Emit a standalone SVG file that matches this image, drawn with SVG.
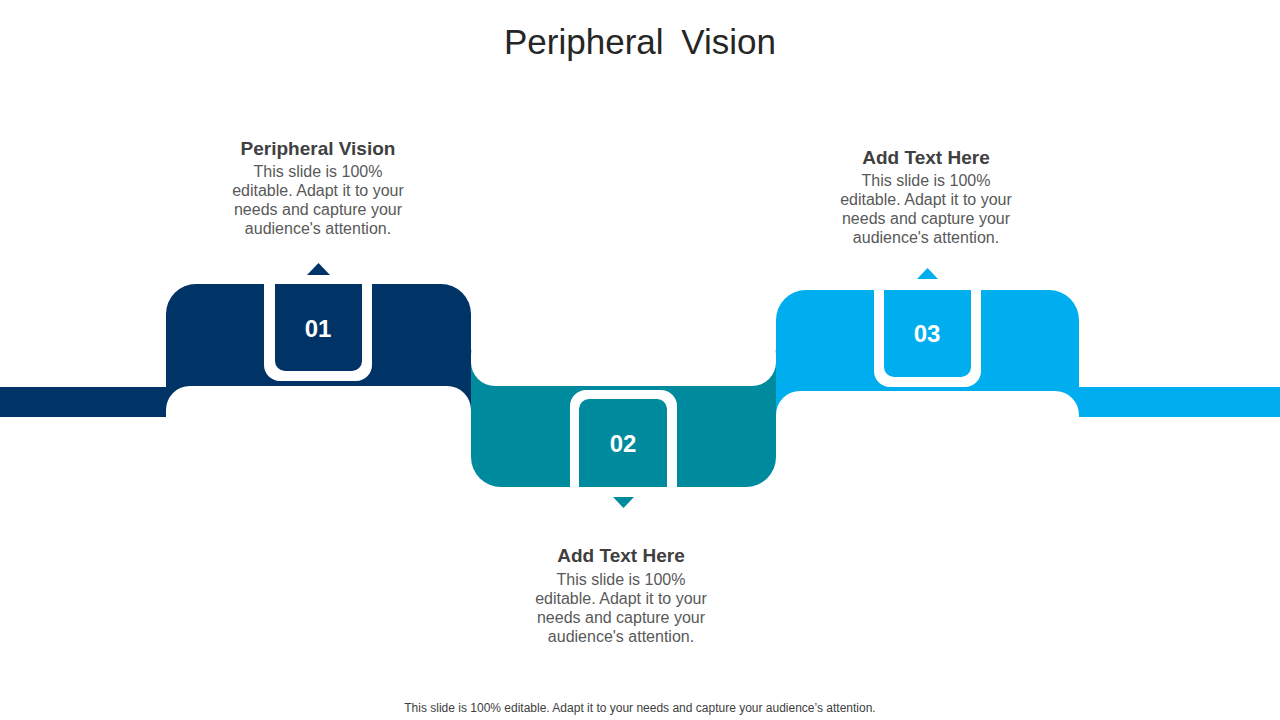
<svg xmlns="http://www.w3.org/2000/svg" width="1280" height="720" viewBox="0 0 1280 720">
<style>
.title{font-family:"Liberation Sans",Arial,sans-serif;font-size:35px;fill:#262626;text-anchor:middle}
.head{font-family:"Liberation Sans",Arial,sans-serif;font-size:19px;font-weight:bold;fill:#404040;text-anchor:middle}
.body{font-family:"Liberation Sans",Arial,sans-serif;font-size:16px;fill:#595959;text-anchor:middle}
.num{font-family:"Liberation Sans",Arial,sans-serif;font-size:24px;font-weight:bold;fill:#ffffff;text-anchor:middle}
.foot{font-family:"Liberation Sans",Arial,sans-serif;font-size:12px;fill:#404040;text-anchor:middle}
.c1{fill:#003366}.c2{fill:#008A9E}.c3{fill:#00AEEF}.w{fill:#ffffff}
</style>
<rect width="1280" height="720" fill="#ffffff"/>
<text class="title" x="640" y="54" word-spacing="8">Peripheral Vision</text>

<g id="connectors">
<rect class="c1" x="0" y="387" width="167" height="30"/>
<rect class="c3" x="1078" y="387" width="202" height="30"/>
</g>

<g id="step2">
<path class="c2" d="M471,350 H776 V457 a30,30 0 0 1 -30,30 H501 a30,30 0 0 1 -30,-30 Z"/>
<rect class="w" x="471" y="330" width="305" height="56" rx="24"/>
<path class="w" d="M570,487 V406 a16,16 0 0 1 16,-16 H661 a16,16 0 0 1 16,16 V487 Z"/>
<path class="c2" d="M579,487 V409 a10,10 0 0 1 10,-10 H657 a10,10 0 0 1 10,10 V487 Z"/>
<text class="num" x="623" y="452">02</text>
<path class="c2" d="M613,497 H634 L623.5,508 Z"/>
<text class="head" x="621" y="562">Add Text Here</text>
<text class="body" x="621" y="585">This slide is 100%</text>
<text class="body" x="621" y="604">editable. Adapt it to your</text>
<text class="body" x="621" y="623">needs and capture your</text>
<text class="body" x="621" y="642">audience's attention.</text>
</g>

<g id="step1">
<path class="c1" d="M166,417 V314 a30,30 0 0 1 30,-30 H441 a30,30 0 0 1 30,30 V417 Z"/>
<rect class="w" x="166" y="386" width="305" height="60" rx="24"/>
<path class="w" d="M264,284 V365 a16,16 0 0 0 16,16 H356 a16,16 0 0 0 16,-16 V284 Z"/>
<path class="c1" d="M275,284 V361 a10,10 0 0 0 10,10 H352 a10,10 0 0 0 10,-10 V284 Z"/>
<text class="num" x="318" y="337">01</text>
<path class="c1" d="M307,275 H330 L318.5,263 Z"/>
<text class="head" x="318" y="155">Peripheral Vision</text>
<text class="body" x="318" y="177">This slide is 100%</text>
<text class="body" x="318" y="196">editable. Adapt it to your</text>
<text class="body" x="318" y="215">needs and capture your</text>
<text class="body" x="318" y="234">audience's attention.</text>
</g>

<g id="step3">
<path class="c3" d="M776,417 V320 a30,30 0 0 1 30,-30 H1049 a30,30 0 0 1 30,30 V417 Z"/>
<rect class="w" x="776" y="391" width="303" height="60" rx="24"/>
<path class="w" d="M874,290 V371 a16,16 0 0 0 16,16 H965 a16,16 0 0 0 16,-16 V290 Z"/>
<path class="c3" d="M884,290 V367 a10,10 0 0 0 10,10 H961 a10,10 0 0 0 10,-10 V290 Z"/>
<text class="num" x="927" y="342">03</text>
<path class="c3" d="M917,279 H938 L927.5,268 Z"/>
<text class="head" x="926" y="164">Add Text Here</text>
<text class="body" x="926" y="186">This slide is 100%</text>
<text class="body" x="926" y="205">editable. Adapt it to your</text>
<text class="body" x="926" y="224">needs and capture your</text>
<text class="body" x="926" y="243">audience's attention.</text>
</g>

<text class="foot" x="640" y="712">This slide is 100% editable. Adapt it to your needs and capture your audience’s attention.</text>
</svg>
